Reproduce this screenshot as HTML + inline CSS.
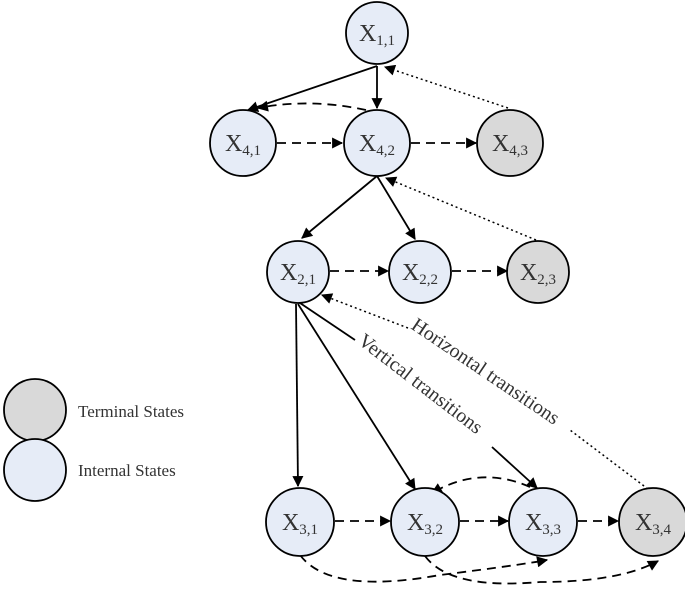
<!DOCTYPE html>
<html><head><meta charset="utf-8"><style>
body{margin:0;background:#fff;}
svg{display:block;font-family:"Liberation Serif",serif;}
</style></head><body>
<svg width="685" height="592" viewBox="0 0 685 592" xmlns="http://www.w3.org/2000/svg">
<defs>
<marker id="b" viewBox="0 0 10 10" refX="9" refY="5" markerWidth="14" markerHeight="11" orient="auto" markerUnits="userSpaceOnUse"><path d="M0,0 L10,5 L0,10 z" fill="#000"/></marker>
</defs>
<g stroke="#000" stroke-width="1.8" fill="none">
<line x1="377" y1="66" x2="248" y2="110" marker-end="url(#b)"/>
<line x1="377" y1="66" x2="377" y2="108" marker-end="url(#b)"/>
<line x1="377" y1="176" x2="302" y2="238" marker-end="url(#b)"/>
<line x1="377" y1="176" x2="415" y2="239" marker-end="url(#b)"/>
<line x1="296" y1="304" x2="298" y2="486" marker-end="url(#b)"/>
<line x1="298" y1="304" x2="415" y2="489" marker-end="url(#b)"/>
<path d="M300,303 L355,340 M492,447 L537,488" marker-end="url(#b)"/>
<g stroke-dasharray="9,6">
<line x1="277" y1="143" x2="342" y2="143" marker-end="url(#b)"/>
<line x1="411" y1="143" x2="476" y2="143" marker-end="url(#b)"/>
<line x1="330" y1="271" x2="388" y2="271" marker-end="url(#b)"/>
<line x1="452" y1="271" x2="507" y2="271" marker-end="url(#b)"/>
<line x1="335" y1="521" x2="390" y2="521" marker-end="url(#b)"/>
<line x1="460" y1="521" x2="508" y2="521" marker-end="url(#b)"/>
<line x1="578" y1="521" x2="618" y2="521" marker-end="url(#b)"/>
<path d="M366,110 Q310,98 258,108" marker-end="url(#b)"/>
<path d="M530,487 Q480,465 432,493" marker-end="url(#b)"/>
<path d="M300,555 Q330,595 440,575 Q520,565 547,560" marker-end="url(#b)"/>
<path d="M425,556 Q450,590 540,582 Q620,582 658,561" marker-end="url(#b)"/>
</g>
<g stroke-width="1.5" stroke-dasharray="2,3">
<line x1="508" y1="108" x2="385" y2="67" marker-end="url(#b)"/>
<line x1="536" y1="240" x2="386" y2="178" marker-end="url(#b)"/>
<path d="M648,489 L570,430 M408,328 L322,295" marker-end="url(#b)"/>
</g>
</g>
<g stroke="#000" stroke-width="1.8">
<circle cx="377" cy="33" r="31" fill="#e6ecf7"/>
<circle cx="243" cy="143" r="33" fill="#e6ecf7"/>
<circle cx="377" cy="143" r="33" fill="#e6ecf7"/>
<circle cx="510" cy="143" r="33" fill="#d9d9d9"/>
<circle cx="298" cy="272" r="31" fill="#e6ecf7"/>
<circle cx="420" cy="272" r="31" fill="#e6ecf7"/>
<circle cx="538" cy="272" r="31" fill="#d9d9d9"/>
<circle cx="300" cy="522" r="34" fill="#e6ecf7"/>
<circle cx="425" cy="522" r="34" fill="#e6ecf7"/>
<circle cx="543" cy="522" r="34" fill="#e6ecf7"/>
<circle cx="653" cy="522" r="34" fill="#d9d9d9"/>
<circle cx="35" cy="410" r="31" fill="#d9d9d9"/>
<circle cx="35" cy="470" r="31" fill="#e6ecf7"/>
</g>
<g font-size="24" fill="#333" text-anchor="middle">
<text x="377" y="41">X<tspan font-size="15" dy="4">1,1</tspan></text>
<text x="243" y="151">X<tspan font-size="15" dy="4">4,1</tspan></text>
<text x="377" y="151">X<tspan font-size="15" dy="4">4,2</tspan></text>
<text x="510" y="151">X<tspan font-size="15" dy="4">4,3</tspan></text>
<text x="298" y="280">X<tspan font-size="15" dy="4">2,1</tspan></text>
<text x="420" y="280">X<tspan font-size="15" dy="4">2,2</tspan></text>
<text x="538" y="280">X<tspan font-size="15" dy="4">2,3</tspan></text>
<text x="300" y="530">X<tspan font-size="15" dy="4">3,1</tspan></text>
<text x="425" y="530">X<tspan font-size="15" dy="4">3,2</tspan></text>
<text x="543" y="530">X<tspan font-size="15" dy="4">3,3</tspan></text>
<text x="653" y="530">X<tspan font-size="15" dy="4">3,4</tspan></text>
</g>
<g fill="#333">
<text x="78" y="417" font-size="17">Terminal States</text>
<text x="78" y="476" font-size="17">Internal States</text>
<text font-size="20" transform="translate(357,343) rotate(37.5)">Vertical transitions</text>
<text font-size="20" transform="translate(410,328) rotate(34)">Horizontal transitions</text>
</g>
</svg>
</body></html>
